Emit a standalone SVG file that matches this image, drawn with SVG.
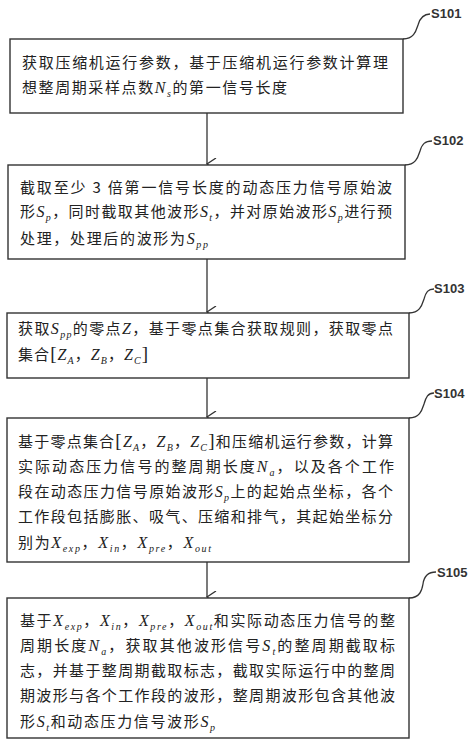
<svg xmlns="http://www.w3.org/2000/svg" width="474" height="745" viewBox="0 0 474 745">
<defs>
<style>
.box{fill:#fff;stroke:#333;stroke-width:1.4}
.t{font-family:"Noto Sans CJK SC","Noto Sans",sans-serif;font-size:15px;fill:#222}
.m{font-family:"Liberation Serif","DejaVu Serif",serif;font-style:italic;font-size:16px}
.s{font-family:"Liberation Serif","DejaVu Serif",serif;font-style:italic;font-size:10px}
.br{font-family:"Liberation Serif",serif;font-size:19px}
.lbl{font-family:"Liberation Sans","DejaVu Sans",sans-serif;font-size:13px;font-weight:bold;fill:#333}
.c{fill:none;stroke:#333;stroke-width:1.3}
</style>
<marker id="ah" markerWidth="12" markerHeight="12" refX="6" refY="10" orient="auto" markerUnits="userSpaceOnUse" viewBox="0 0 12 12">
<path d="M0,1 L6,10 L12,1" fill="none" stroke="#333" stroke-width="1.3"/>
</marker>
</defs>
<rect width="474" height="745" fill="#fff"/>
<g id="connectors">
<line class="c" x1="207" y1="113" x2="207" y2="164" marker-end="url(#ah)"/>
<line class="c" x1="207" y1="259" x2="207" y2="312" marker-end="url(#ah)"/>
<line class="c" x1="207" y1="378" x2="207" y2="417" marker-end="url(#ah)"/>
<line class="c" x1="207" y1="562" x2="207" y2="597" marker-end="url(#ah)"/>
<path class="c" d="M403,39 C414,39 416,31 418,25 C420,18 423,14 430,14"/>
<path class="c" d="M405,165 C416,165 418,157 420,151 C422,144 425,141 432,141"/>
<path class="c" d="M409,313 C420,313 422,305 424,299 C426,292 428,289 434,289"/>
<path class="c" d="M409,418 C420,418 422,410 424,404 C426,397 428,393 434,393"/>
<path class="c" d="M409,598 C420,598 422,590 423,584 C424,576 428,572 436,572"/>
</g>
<g id="S101">
<rect class="box" x="10" y="39" width="393" height="74"/>
<text class="lbl" x="431" y="18">S101</text>
<text class="t" x="22" y="68" textLength="366" lengthAdjust="spacing">获取压缩机运行参数，基于压缩机运行参数计算理</text>
<text class="t" x="22" y="93" textLength="265" lengthAdjust="spacing">想整周期采样点数<tspan class="m">N</tspan><tspan class="s" dy="4">s</tspan><tspan dy="-4">的第一信号长度</tspan></text>
</g>
<g id="S102">
<rect class="box" x="8" y="165" width="397" height="94"/>
<text class="lbl" x="433" y="145">S102</text>
<text class="t" x="20" y="193" textLength="372" lengthAdjust="spacing">截取至少 3 倍第一信号长度的动态压力信号原始波</text>
<text class="t" x="20" y="217" textLength="372" lengthAdjust="spacing">形<tspan class="m">S</tspan><tspan class="s" dy="4">p</tspan><tspan dy="-4">，同时截取其他波形</tspan><tspan class="m">S</tspan><tspan class="s" dy="4">t</tspan><tspan dy="-4">，并对原始波形</tspan><tspan class="m">S</tspan><tspan class="s" dy="4">p</tspan><tspan dy="-4">进行预</tspan></text>
<text class="t" x="20" y="244" textLength="188" lengthAdjust="spacing">处理，处理后的波形为<tspan class="m">S</tspan><tspan class="s" dy="4">pp</tspan></text>
</g>
<g id="S103">
<rect class="box" x="7" y="313" width="402" height="65"/>
<text class="lbl" x="434" y="293">S103</text>
<text class="t" x="18" y="334" textLength="375" lengthAdjust="spacing">获取<tspan class="m">S</tspan><tspan class="s" dy="4">pp</tspan><tspan dy="-4">的零点</tspan><tspan class="m">Z</tspan><tspan>，基于零点集合获取规则，获取零点</tspan></text>
<text class="t" x="18" y="360" textLength="130" lengthAdjust="spacing">集合<tspan class="br">[</tspan><tspan class="m">Z</tspan><tspan class="s" dy="4">A</tspan><tspan dy="-4">，</tspan><tspan class="m">Z</tspan><tspan class="s" dy="4">B</tspan><tspan dy="-4">，</tspan><tspan class="m">Z</tspan><tspan class="s" dy="4">C</tspan><tspan class="br" dy="-4">]</tspan></text>
</g>
<g id="S104">
<rect class="box" x="7" y="418" width="402" height="144"/>
<text class="lbl" x="434" y="398">S104</text>
<text class="t" x="18" y="447" textLength="375" lengthAdjust="spacing">基于零点集合<tspan class="br">[</tspan><tspan class="m">Z</tspan><tspan class="s" dy="4">A</tspan><tspan dy="-4">，</tspan><tspan class="m">Z</tspan><tspan class="s" dy="4">B</tspan><tspan dy="-4">，</tspan><tspan class="m">Z</tspan><tspan class="s" dy="4">C</tspan><tspan class="br" dy="-4">]</tspan><tspan>和压缩机运行参数，计算</tspan></text>
<text class="t" x="18" y="472" textLength="376" lengthAdjust="spacing">实际动态压力信号的整周期长度<tspan class="m">N</tspan><tspan class="s" dy="4">a</tspan><tspan dy="-4">，以及各个工作</tspan></text>
<text class="t" x="18" y="497" textLength="375" lengthAdjust="spacing">段在动态压力信号原始波形<tspan class="m">S</tspan><tspan class="s" dy="4">p</tspan><tspan dy="-4">上的起始点坐标，各个</tspan></text>
<text class="t" x="18" y="522" textLength="375" lengthAdjust="spacing">工作段包括膨胀、吸气、压缩和排气，其起始坐标分</text>
<text class="t" x="18" y="548" textLength="193" lengthAdjust="spacing">别为<tspan class="m">X</tspan><tspan class="s" dy="4">exp</tspan><tspan dy="-4">，</tspan><tspan class="m">X</tspan><tspan class="s" dy="4">in</tspan><tspan dy="-4">，</tspan><tspan class="m">X</tspan><tspan class="s" dy="4">pre</tspan><tspan dy="-4">，</tspan><tspan class="m">X</tspan><tspan class="s" dy="4">out</tspan></text>
</g>
<g id="S105">
<rect class="box" x="7" y="598" width="402" height="140"/>
<text class="lbl" x="437" y="577">S105</text>
<text class="t" x="20" y="626" textLength="375" lengthAdjust="spacing">基于<tspan class="m">X</tspan><tspan class="s" dy="4">exp</tspan><tspan dy="-4">，</tspan><tspan class="m">X</tspan><tspan class="s" dy="4">in</tspan><tspan dy="-4">，</tspan><tspan class="m">X</tspan><tspan class="s" dy="4">pre</tspan><tspan dy="-4">，</tspan><tspan class="m">X</tspan><tspan class="s" dy="4">out</tspan><tspan dy="-4">和实际动态压力信号的整</tspan></text>
<text class="t" x="20" y="651" textLength="375" lengthAdjust="spacing">周期长度<tspan class="m">N</tspan><tspan class="s" dy="4">a</tspan><tspan dy="-4">，获取其他波形信号</tspan><tspan class="m">S</tspan><tspan class="s" dy="4">t</tspan><tspan dy="-4">的整周期截取标</tspan></text>
<text class="t" x="20" y="676" textLength="375" lengthAdjust="spacing">志，并基于整周期截取标志，截取实际运行中的整周</text>
<text class="t" x="20" y="701" textLength="375" lengthAdjust="spacing">期波形与各个工作段的波形，整周期波形包含其他波</text>
<text class="t" x="20" y="727" textLength="195" lengthAdjust="spacing">形<tspan class="m">S</tspan><tspan class="s" dy="4">t</tspan><tspan dy="-4">和动态压力信号波形</tspan><tspan class="m">S</tspan><tspan class="s" dy="4">p</tspan></text>
</g>
</svg>
